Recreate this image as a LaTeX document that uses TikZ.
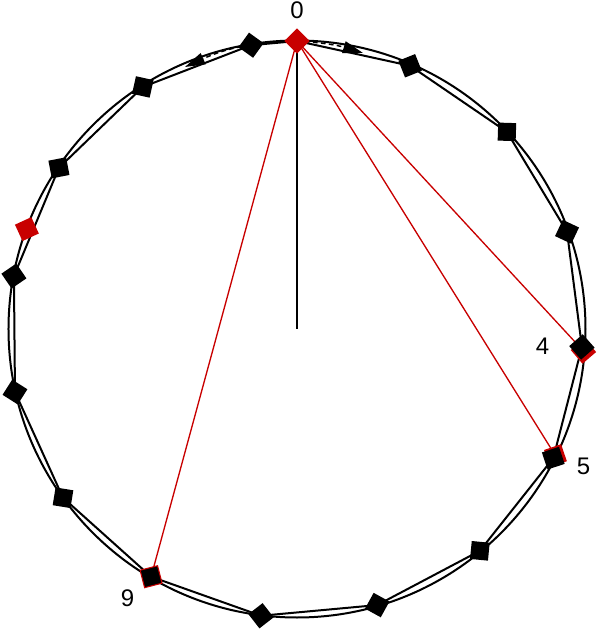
\documentclass[tikz,border=0pt]{standalone}
\usepackage{fontspec}
\setmainfont{Liberation Sans}
\usetikzlibrary{arrows.meta,backgrounds}
\definecolor{fingerred}{RGB}{200,0,0}

\tikzset{
	peer/.style={rectangle,fill=black,minimum size=13.5pt,inner sep=0pt},
	hit/.style={rectangle,fill=fingerred,minimum size=13.5pt,inner sep=0pt},
	ring/.style={line width=1.5pt},
	finger/.style={draw=fingerred,line width=1pt},
	walk/.style={line width=1.1pt,dash pattern=on 3.5pt off 2.5pt,-{Triangle[length=15pt,width=9pt]}},
	lbl/.style={font=\fontsize{18}{20}\selectfont}
}

\begin{document}
\begin{tikzpicture}[x=0.75pt,y=0.75pt]
	\useasboundingbox (-297,-300) rectangle (300,329);
	\coordinate (hub) at (0,0);

	%ring
	\draw[ring] (hub) circle[radius=288.5];

	%red marks under 4 and 5
	\node[hit,rotate=40.6] (m4) at (-4.4:287.3) {};
	\node[hit,rotate=18.9] (m5) at (-26.1:287.8) {};

	%peers
	\node[hit,rotate=135]     (n0)  at (90:288) {};
	\node[peer,rotate=111.75] (n1)  at (66.75:286.5) {};
	\node[peer,rotate=88.2]   (n2)  at (43.2:288) {};
	\node[peer,rotate=64.8]   (n3)  at (19.8:287) {};
	\node[peer,rotate=41.4]   (n4)  at (-3.6:285.5) {};
	\node[peer,rotate=18.25]  (n5)  at (-26.75:287) {};
	\node[peer,rotate=-5.5]   (n6)  at (-50.5:287.5) {};
	\node[peer,rotate=-28.8]  (n7)  at (-73.8:287.5) {};
	\node[peer,rotate=-52.15] (n8)  at (-97.15:289) {};
	\node[peer,draw=fingerred,line width=0.8pt,rotate=-75.5] (n9) at (-120.5:287.5) {};
	\node[peer,rotate=-99.2]  (n10) at (-144.2:288.5) {};
	\node[peer,rotate=-122.4] (n11) at (-167.4:289) {};
	\node[peer,rotate=214.4]  (n12) at (169.4:288) {};
	\node[peer,rotate=190.9]  (n13) at (145.9:287.5) {};
	\node[peer,rotate=167.5]  (n14) at (122.5:287) {};
	\node[peer,rotate=144.2]  (n15) at (99.2:287.5) {};
	%joining peer
	\node[hit,rotate=204.7]   (nx)  at (159.7:288) {};

	%labels
	\node[lbl] (t0) at (0,319) {0};
	\node[lbl] (t4) at (245.5,-17.5) {4};
	\node[lbl] (t5) at (286.5,-137.5) {5};
	\node[lbl] (t9) at (-169.5,-269) {9};

	%arrow ends
	\coordinate (tipL) at (-112,262);
	\coordinate (tipR) at (66,276);

	\begin{scope}[on background layer]
		%radius
		\draw[ring] (n0.center)--(hub);
		%chords
		\draw[ring] (n0.center)--(n1.center)--(n2.center)--(n3.center)--(n4.center)--(n5.center)--(n6.center)--(n7.center)--(n8.center);
		\draw[ring] (n8.center)--(n9.center)--(n10.center)--(n11.center)--(n12.center)--(n13.center)--(n14.center)--(n15.center)--(n0.center);
		%fingers
		\draw[finger] (n0.center)--(m4.center);
		\draw[finger] (n0.center)--(m5.center);
		\draw[finger] (n0.center)--(n9.center);
		%walk
		\draw[walk] (n0.center) to[bend right=11.5] (tipL);
		\draw[walk] (n0.center) to[bend left=6.7] (tipR);
	\end{scope}
\end{tikzpicture}
\end{document}
